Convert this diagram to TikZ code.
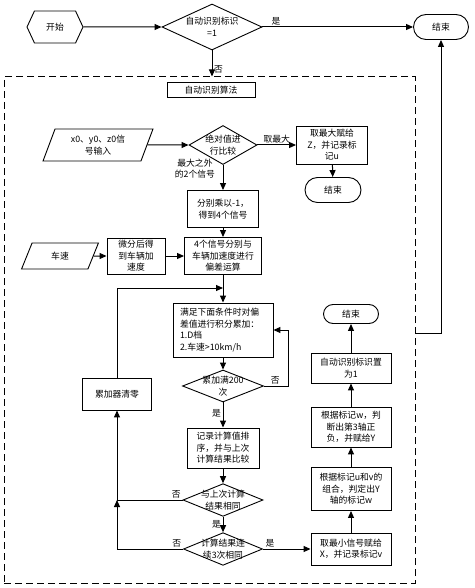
\documentclass[tikz,border=0pt]{standalone}
\usepackage{fontspec}
\setmainfont{Noto Sans CJK SC}
\usetikzlibrary{arrows.meta,positioning,shapes.geometric,shapes.misc,shapes.symbols}

\begin{document}
\begin{tikzpicture}[x=1pt,y=-1pt,
  font=\fontsize{8.8}{11.5}\selectfont,
  bx/.style={draw,line width=0.9pt,align=center,inner sep=1pt},
  dec/.style={draw,diamond,aspect=2,line width=0.9pt,align=center,inner sep=-3pt},
  io/.style={draw,trapezium,trapezium left angle=70,trapezium right angle=110,
             trapezium stretches=true,line width=0.9pt,align=center,inner sep=1pt},
  term/.style={draw,rounded rectangle,line width=0.9pt,inner sep=1pt},
  hexa/.style={draw,signal,signal to=west and east,signal pointer angle=130,
               line width=0.9pt,minimum width=56pt,minimum height=32pt,inner sep=1pt},
  frm/.style={draw,dash pattern=on 7pt off 4pt,line width=1pt,inner sep=0pt,
              minimum width=411pt,minimum height=506pt},
  ar/.style={-{Triangle[length=7pt,width=6pt]},line width=1pt},
  tag/.style={inner sep=1.5pt}]
\useasboundingbox (0,0) rectangle (474,588);

% top row
\node[hexa] (st) at (55,27) {开始};
\node[dec,minimum width=100pt,minimum height=46pt] (d1) at (212,27) {自动识别标识\\=1};
\node[term,minimum width=57pt,minimum height=25pt] (e1) at (441,27) {结束};
\draw[ar] (st) -- (d1);
\draw[ar] (d1) -- node[tag,above,pos=0.09]{是} (e1);

% algorithm frame
\node[frm] (frm) at (209.5,330) {};
\node[bx,minimum width=88pt,minimum height=15pt] (ttl) at (211,90) {自动识别算法};
\coordinate (in) at (d1.south |- frm.north);
\draw[ar] (d1) -- node[tag,right,pos=0.72]{否} (in);

% signal comparison
\node[io,minimum width=110pt,minimum height=32pt] (xyz) at (98,145) {x0、y0、z0信\\号输入};
\node[dec,minimum width=68pt,minimum height=39pt] (d2) at (223,145) {绝对值进\\行比较};
\node[bx,minimum width=71pt,minimum height=38pt] (mx) at (332,145) {取最大赋给\\Z，并记录标\\记u};
\node[term,minimum width=58pt,minimum height=25pt] (e2) at (333,190) {结束};
\node[bx,minimum width=71pt,minimum height=37pt] (neg) at (223,209) {分别乘以-1，\\得到4个信号};
\draw[ar] (xyz) -- (d2);
\draw[ar] (d2) -- node[tag,above]{取最大} (mx);
\draw[ar] (mx) -- (e2);
\draw[ar] (d2) -- node[tag,left,align=center,pos=0.15,xshift=-6pt]{最大之外\\的2个信号} (neg);

% deviation
\node[io,minimum width=77pt,minimum height=26pt] (spd) at (60,256) {车速};
\node[bx,minimum width=58pt,minimum height=36pt] (dif) at (136,256) {微分后得\\到车辆加\\速度};
\node[bx,minimum width=77pt,minimum height=37pt] (dev) at (223,256) {4个信号分别与\\车辆加速度进行\\偏差运算};
\draw[ar] (neg) -- (dev);
\draw[ar] (spd) -- (dif);
\draw[ar] (dif) -- (dev);

% accumulation loop
\node[bx,minimum width=100pt,minimum height=54pt,text width=86pt,align=left] (itg) at (223,330)
  {满足下面条件时对偏\\差值进行积分累加：\\1.D档\\2.车速>10km/h};
\node[dec,minimum width=81pt,minimum height=32pt] (d3) at (223,386) {累加满200\\次};
\node[bx,minimum width=69pt,minimum height=32pt] (clr) at (117,394) {累加器清零};
\node[bx,minimum width=72pt,minimum height=40pt] (rec) at (223,448) {记录计算值排\\序，并与上次\\计算结果比较};
\node[dec,minimum width=80pt,minimum height=31pt] (d4) at (223,500) {与上次计算\\结果相同};
\node[dec,minimum width=79pt,minimum height=32pt] (d5) at (223,549) {计算结果连\\续3次相同};
\coordinate (mg) at (223,288);
\coordinate (jn) at (clr.south |- d4.west);
\draw[ar] (dev) -- (itg);
\draw[ar] (itg) -- (d3);
\draw[ar] (d3.east) -- node[tag,above,pos=0.45]{否} ++(25,0) |- (itg.east);
\draw[ar] (d3) -- node[tag,left,pos=0.45]{是} (rec);
\draw[ar] (rec) -- (d4);
\draw[ar] (d4) -- node[tag,left]{是} (d5);
\draw[ar] (d4.west) node[tag,above left]{否} -| (clr.south);
\draw[ar] (d5.west) node[tag,above left]{否} -| (jn);
\draw[ar] (clr.north) |- (mg);

% axis decision chain
\node[term,minimum width=57pt,minimum height=19pt] (e3) at (351,314) {结束};
\node[bx,minimum width=80pt,minimum height=30pt] (fl) at (351,368) {自动识别标识置\\为1};
\node[bx,minimum width=80pt,minimum height=40pt] (yb) at (351,427) {根据标记w，判\\断出第3轴正\\负，并赋给Y};
\node[bx,minimum width=80pt,minimum height=43pt] (wb) at (351,489) {根据标记u和v的\\组合，判定出Y\\轴的标记w};
\node[bx,minimum width=80pt,minimum height=32pt] (mn) at (351,549) {取最小信号赋给\\X，并记录标记v};
\draw[ar] (d5) -- node[tag,above,pos=0.15]{是} (mn);
\draw[ar] (mn) -- (wb);
\draw[ar] (wb) -- (yb);
\draw[ar] (yb) -- (fl);
\draw[ar] (fl) -- (e3);

% back to the end
\coordinate (ex) at (415,333);
\draw[ar] (ex) -| (e1);
\end{tikzpicture}
\end{document}
